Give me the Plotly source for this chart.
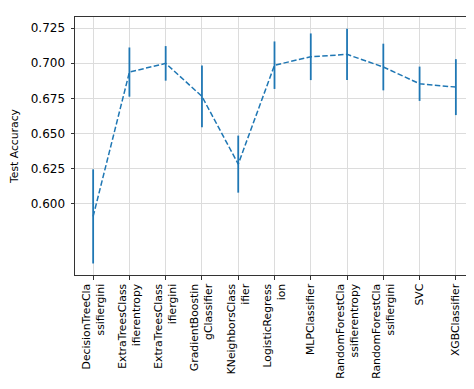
import plotly.graph_objects as go

models = ["DecisionTreeCla<br>ssifiergini", "ExtraTreesClass<br>ifierentropy", "ExtraTreesClass<br>ifiergini",
          "GradientBoostin<br>gClassifier", "KNeighborsClass<br>ifier", "LogisticRegress<br>ion",
          "MLPClassifier", "RandomForestCla<br>ssifierentropy", "RandomForestCla<br>ssifiergini",
          "SVC", "XGBClassifier"]
mean_acc = [0.591, 0.6937, 0.6999, 0.6764, 0.6282, 0.6986, 0.7046, 0.7063, 0.6973, 0.6854, 0.6830]
std_acc = [0.0335, 0.0175, 0.0123, 0.0220, 0.0203, 0.0169, 0.0166, 0.0182, 0.0166, 0.0122, 0.0199]
ytick_vals = [0.600, 0.625, 0.650, 0.675, 0.700, 0.725]
ytick_text = ["0.600", "0.625", "0.650", "0.675", "0.700", "0.725"]

xpos = list(range(len(models)))
blue = "#1f77b4"

fig = go.Figure()
fig.add_trace(go.Scatter(
    x=xpos, y=mean_acc, mode="lines",
    line=dict(color=blue, width=1.5, dash="5.5px,2.4px"),
    error_y=dict(type="data", array=std_acc, visible=True, color=blue, thickness=1.8, width=0),
    showlegend=False,
))

fontfam = "DejaVu Sans"
fig.update_layout(
    width=474, height=389,
    margin=dict(l=67.3, r=8.3, t=8.7, b=122.3),
    paper_bgcolor="white", plot_bgcolor="white",
    font=dict(family=fontfam, size=12, color="black"),
)
fig.update_xaxes(
    range=[-0.5, 10.5], tickmode="array", tickvals=xpos, ticktext=models,
    tickangle=-90, ticks="outside", ticklen=3.5, tickwidth=0.8, tickcolor="#333",
    tickfont=dict(size=10.8), automargin=False,
    showgrid=True, gridcolor="#dcdcdc", gridwidth=0.8,
    showline=True, linecolor="#333", linewidth=1, mirror=True, zeroline=False,
)
fig.update_yaxes(
    range=[0.5493, 0.7329], tickmode="array", tickvals=ytick_vals, ticktext=ytick_text,
    ticks="outside", ticklen=3.5, tickwidth=0.8, tickcolor="#333",
    tickfont=dict(size=12), automargin=False, ticklabelstandoff=3,
    showgrid=True, gridcolor="#dcdcdc", gridwidth=0.8,
    showline=True, linecolor="#333", linewidth=1, mirror=True, zeroline=False,
    title=dict(text="Test Accuracy", standoff=9, font=dict(size=10.8)),
)
fig.write_html("out.html")
